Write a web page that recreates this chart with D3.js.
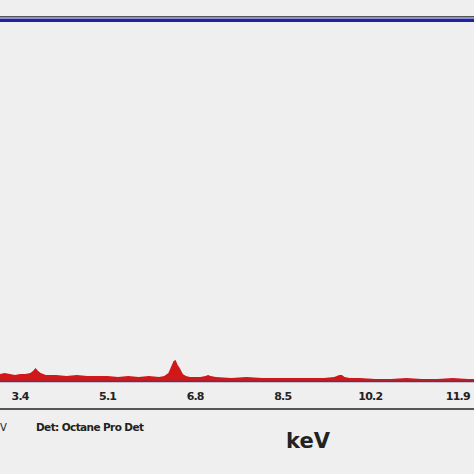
<!DOCTYPE html>
<html><head><meta charset="utf-8">
<script src="https://cdn.jsdelivr.net/npm/d3@7"></script>
<style>body{margin:0;background:#efefef}</style></head>
<body>
<script>
// Spectrum samples (keV, counts)
const energies = [3.0,3.1,3.2,3.3,3.4,3.5,3.6,3.65,3.7,3.75,3.8,3.9,4.1,4.3,4.5,4.7,4.9,5.1,5.3,5.5,5.7,5.9,6.1,6.2,6.28,6.33,6.38,6.42,6.46,6.5,6.56,6.62,6.7,6.8,6.9,7.0,7.05,7.1,7.2,7.5,7.8,8.1,8.4,8.7,9.0,9.3,9.5,9.6,9.65,9.7,9.8,10.0,10.3,10.6,10.9,11.2,11.5,11.8,12.1,12.3];
const counts   = [7,8,7,6,7,7,8,10,13,10,8,6,6,5,6,5,5,5,4,5,4,5,4,5,8,14,20,21,16,13,7,5,4,4,4,5,6,5,4,3,4,3,3,3,3,3,4,6,6,4,3,3,2,2,3,2,2,3,2,2];
const ticks = [3.4,5.1,6.8,8.5,10.2,11.9];

const W = 474, H = 474;
const svg = d3.select("body").append("svg").attr("width", W).attr("height", H);

const x = d3.scaleLinear().domain([3.01, 3.01 + 474 / 51.5]).range([0, W]);
const y = d3.scaleLinear().domain([0, 361]).range([381, 20]);

// top frame line
svg.append("line").attr("x1", 0).attr("x2", W).attr("y1", 16.5).attr("y2", 16.5)
  .attr("stroke", "#555").attr("stroke-width", 1);
svg.append("line").attr("x1", 0).attr("x2", W).attr("y1", 18).attr("y2", 18)
  .attr("stroke", "#8a8fd8").attr("stroke-width", 2);
svg.append("line").attr("x1", 0).attr("x2", W).attr("y1", 20.5).attr("y2", 20.5)
  .attr("stroke", "#22229a").attr("stroke-width", 3);

// spectrum
const area = d3.area().x((d, i) => x(energies[i])).y0(y(0)).y1(d => y(d)).curve(d3.curveLinear);
svg.append("path").datum(counts).attr("d", area).attr("fill", "#d01818");
svg.append("line").attr("x1", 0).attr("x2", W).attr("y1", y(0) + 0.5).attr("y2", y(0) + 0.5)
  .attr("stroke", "#4a3a7a").attr("stroke-width", 1.5);

// tick labels
svg.selectAll("text.tick").data(ticks).enter().append("text")
  .attr("x", d => x(d)).attr("y", 400).attr("text-anchor", "middle")
  .attr("font-family", "DejaVu Sans").attr("font-size", 11).attr("font-weight", 600)
  .attr("fill", "#222").attr("letter-spacing", -0.8).text(d => d.toFixed(1));

// lower divider
svg.append("line").attr("x1", 0).attr("x2", W).attr("y1", 409).attr("y2", 409)
  .attr("stroke", "#555").attr("stroke-width", 2);

svg.append("text").attr("x", 0).attr("y", 431).attr("font-family", "DejaVu Sans")
  .attr("font-size", 10).attr("fill", "#222").text("V");
svg.append("text").attr("x", 36).attr("y", 431).attr("font-family", "DejaVu Sans")
  .attr("font-size", 10.5).attr("font-weight", 600).attr("letter-spacing", -0.6)
  .attr("fill", "#222").text("Det: Octane Pro Det");
svg.append("text").attr("x", 308).attr("y", 448).attr("text-anchor", "middle")
  .attr("font-family", "DejaVu Sans").attr("font-weight", "bold").attr("font-size", 21)
  .attr("fill", "#222").text("keV");
</script>
</body></html>
